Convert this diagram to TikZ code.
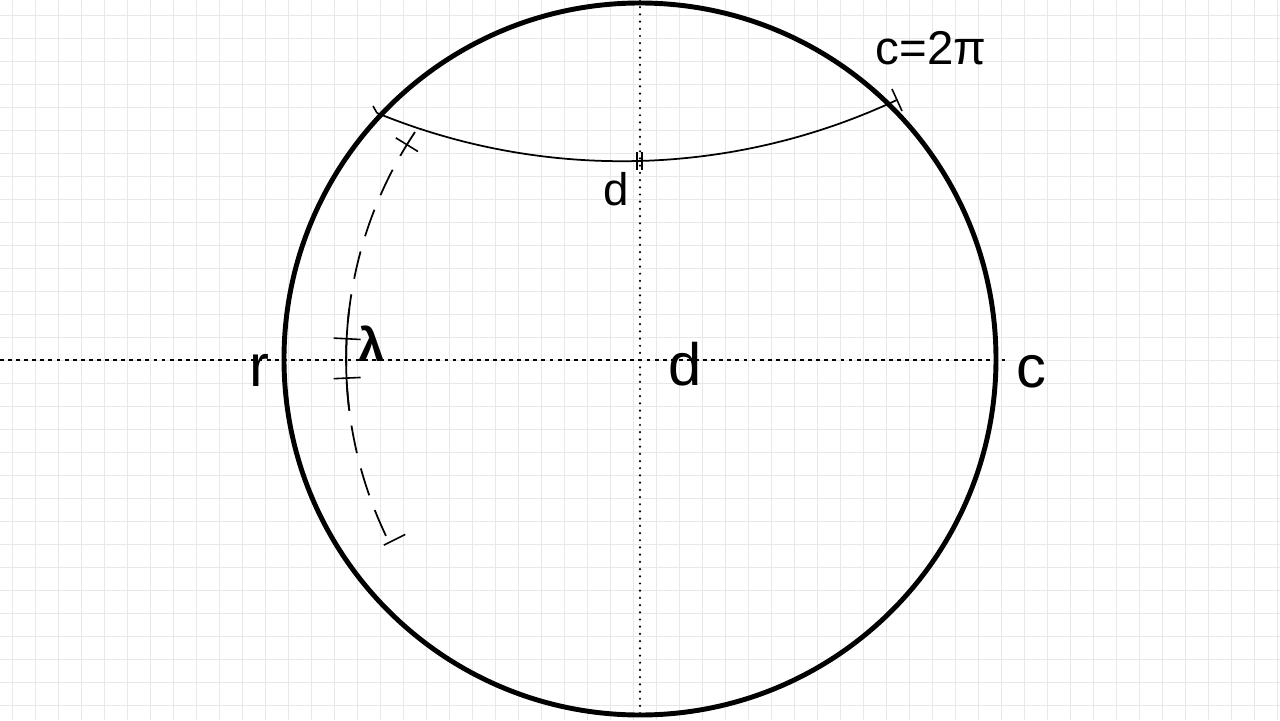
\documentclass[tikz,border=0pt]{standalone}
\usepackage{fontspec}
\setmainfont{Liberation Sans}
\usepackage{tikz}

\begin{document}
\begin{tikzpicture}[x=0.02cm, y=0.02cm,
  gridline/.style={line width=0.55pt, black!9},
  hdots/.style={line width=0.9pt, dash pattern=on 2.2pt off 2.4pt},
  vdots/.style={line width=1.4pt, line cap=round, dash pattern=on 0pt off 4.1pt},
  thinarc/.style={line width=1pt},
  dasharc/.style={line width=1pt, dash pattern=on 16pt off 9pt},
  tickmark/.style={line width=0.9pt},
  biglabel/.style={font=\fontsize{34}{34}\selectfont},
  smalllabel/.style={font=\fontsize{26}{26}\selectfont}]
\useasboundingbox (-640,-360) rectangle (640,360);
\fill[white] (-640,-360) rectangle (640,360);
%%% The squared paper in the background
\foreach \k in {0,...,55}
  \draw[gridline] ({-628+23*\k},-360) -- ({-628+23*\k},360);
\foreach \k in {-15,...,15}
  \draw[gridline] (-640,{23*\k}) -- (640,{23*\k});
%%% The two axes through the centre
\draw[hdots] (-640,0) -- (365,0);
\draw[vdots] (0,360) -- (0,-357);
%%% The big circle
\draw[line width=2.8pt] (0,1) circle (356);
%%% The arc across the top, with its marks
\coordinate (pL) at (-263,247);
\coordinate (pM) at (0,199);
\coordinate (pR) at (257,260);
\draw[thinarc] (pL) arc[start angle=-112.26, end angle=-64.88, radius=647];
\draw[tickmark] ([shift={(-4,7)}]pL) -- (pL);
\draw[tickmark] ([shift={(-5,11)}]pR) -- ([shift={(5,-11)}]pR);
\draw[tickmark] ([shift={(-3,9)}]pM) -- ([shift={(-3,-9)}]pM);
\draw[tickmark] ([shift={(2,9)}]pM) -- ([shift={(2,-9)}]pM);
%%% The dashed arc on the left, solid in its middle
\coordinate (lc) at (116.1,0.5);
\draw[dasharc] (lc) ++(146.3:410) arc[start angle=146.3, end angle=206.5, radius=410];
\draw[thinarc] (lc) ++(172.9:410) arc[start angle=172.9, end angle=187.2, radius=410];
\draw[tickmark] (lc) ++(148.4:397) -- ++(148.4:26);
\draw[tickmark] (lc) ++(177.1:396) -- ++(177.1:27);
\draw[tickmark] (lc) ++(182.6:396) -- ++(182.6:27);
\draw[tickmark] (lc) ++(206.5:392) -- ++(206.5:24);
%%% Labels
\node[font=\bfseries\fontsize{27}{27}\selectfont] (lam) at (-268,16) {λ};
\node[smalllabel] (dtop) at (-24,171) {d};
\node[biglabel] (dmid) at (45,-4) {d};
\node[biglabel] (rlbl) at (-381,-10) {r};
\node[biglabel] (clbl) at (391,-12) {c};
\node[font=\fontsize{27}{27}\selectfont] (circ) at (291,312) {c=2π};
\end{tikzpicture}
\end{document}
